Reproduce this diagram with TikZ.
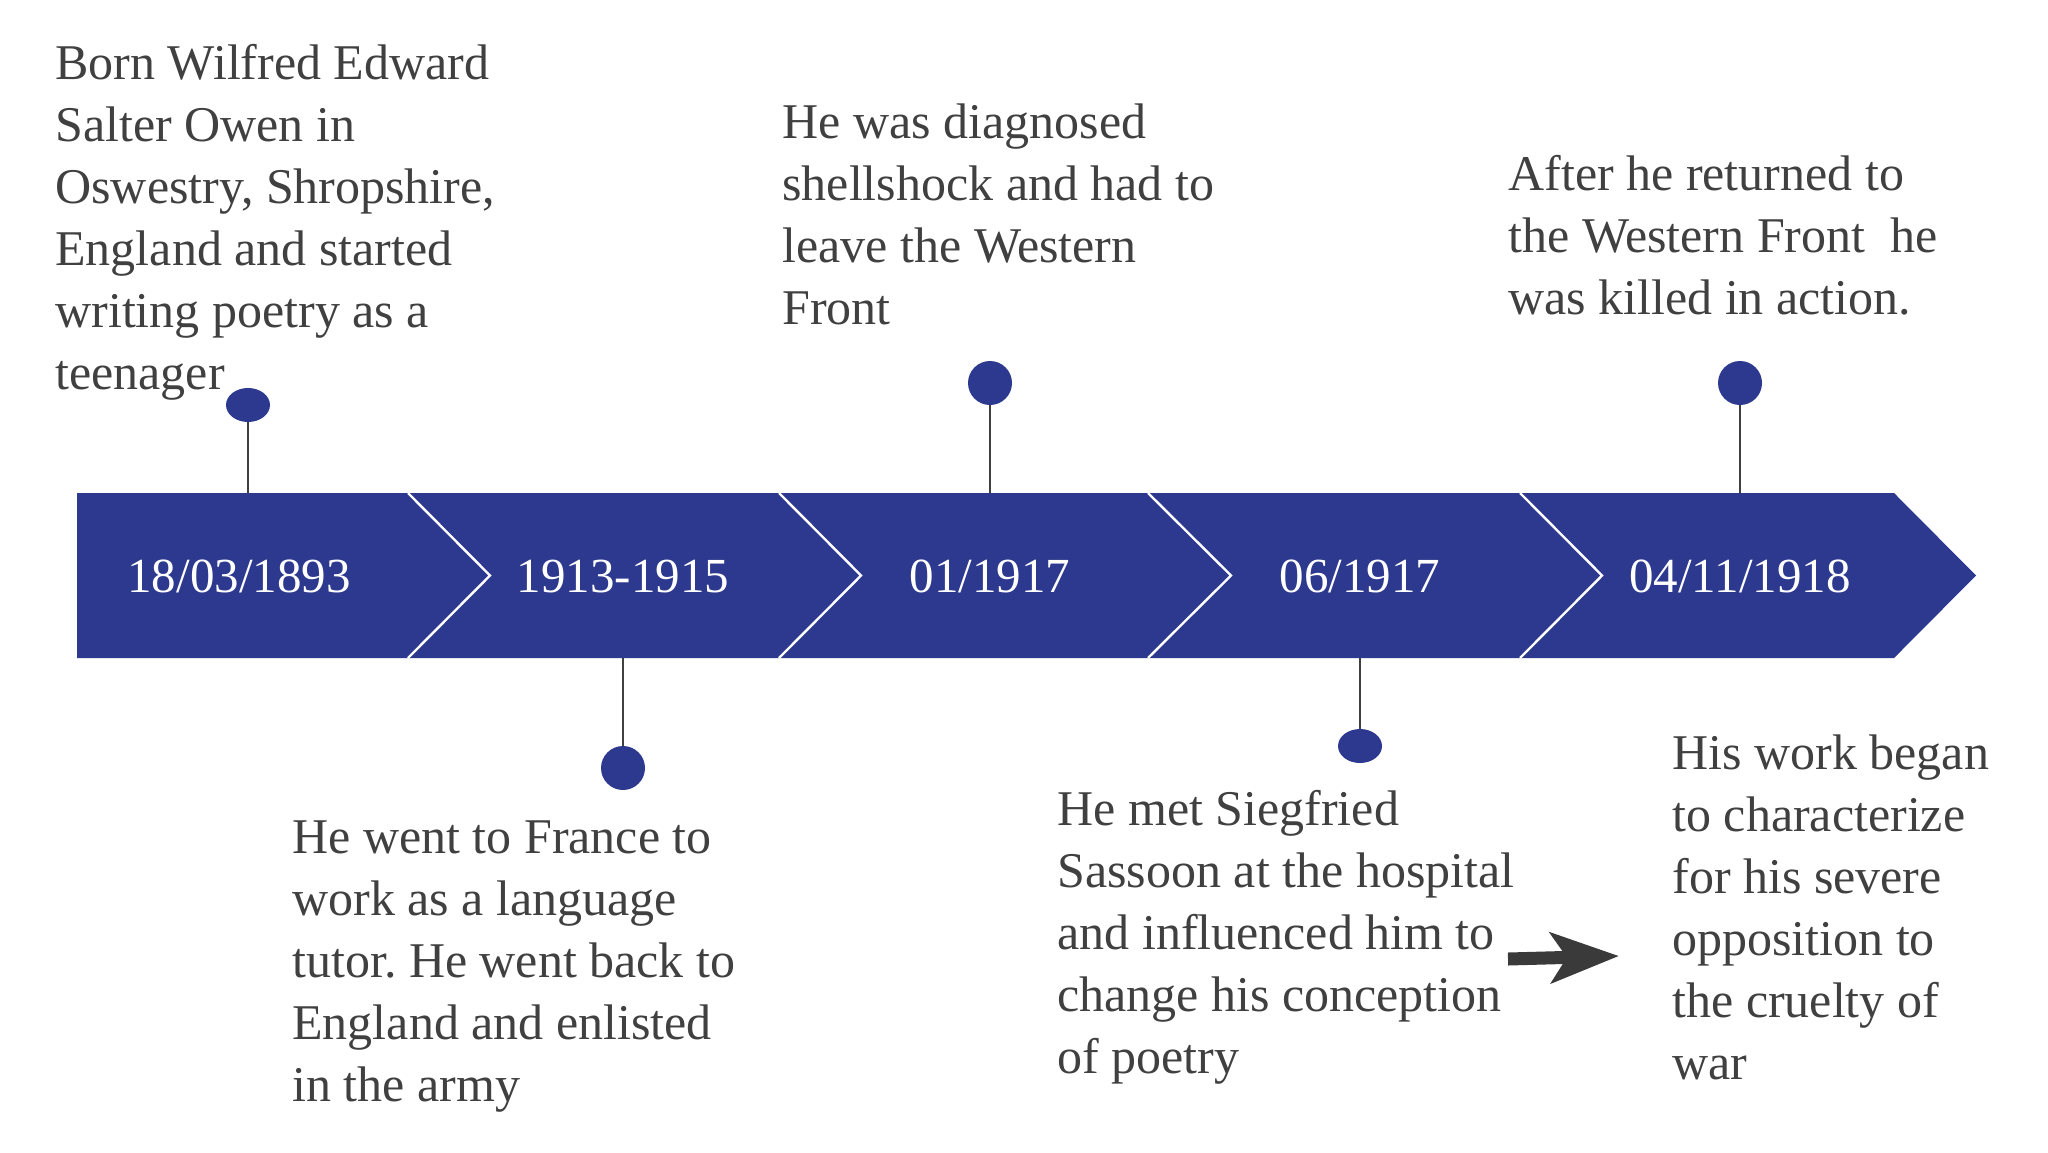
\documentclass[tikz,border=0pt]{standalone}
\usepackage{fontspec}
\setmainfont{Liberation Serif}
\usetikzlibrary{shapes.geometric,arrows.meta}
\frenchspacing
\definecolor{tlblue}{RGB}{44,57,142}
\definecolor{tltext}{RGB}{64,64,64}
\definecolor{tlarrow}{RGB}{58,58,58}
\tikzset{
  seg/.style={fill=tlblue,draw=none},
  sepline/.style={draw=white,line width=1.2pt,line join=miter},
  datelbl/.style={text=white,font=\fontsize{24.5}{28}\selectfont,anchor=base,inner sep=0pt},
  desc/.style={text=tltext,font=\fontsize{25}{31}\selectfont\frenchspacing,align=left,anchor=base west,inner sep=0pt},
  pinround/.style={circle,fill=tlblue,minimum size=22pt,inner sep=0pt},
  pinoval/.style={ellipse,fill=tlblue,minimum width=22pt,minimum height=17pt,inner sep=0pt},
  stem/.style={draw=tltext,line width=0.9pt},
  bigarrow/.style={draw=tlarrow,line width=6.5pt,-{Stealth[length=34pt,width=25pt,inset=8pt]}}
}
\begin{document}
\begin{tikzpicture}[x=0.5pt,y=-0.5pt]
\useasboundingbox (0,0) rectangle (2048,1152);
\fill[white] (0,0) rectangle (2048,1152);
% banner segments
\path[seg] (77,493) -- (408,493) -- (490,575.5) -- (408,658) -- (77,658) -- cycle;
\path[seg] (408,493) -- (779,493) -- (861,575.5) -- (779,658) -- (408,658) -- (490,575.5) -- cycle;
\path[seg] (779,493) -- (1148,493) -- (1231,575.5) -- (1148,658) -- (779,658) -- (861,575.5) -- cycle;
\path[seg] (1148,493) -- (1520,493) -- (1602,575.5) -- (1520,658) -- (1148,658) -- (1231,575.5) -- cycle;
\path[seg] (1520,493) -- (1894,493) -- (1976,575.5) -- (1894,658) -- (1520,658) -- (1602,575.5) -- cycle;
% separators
\draw[sepline] (408,493) -- (490,575.5) -- (408,658);
\draw[sepline] (779,493) -- (861,575.5) -- (779,658);
\draw[sepline] (1148,493) -- (1231,575.5) -- (1148,658);
\draw[sepline] (1520,493) -- (1602,575.5) -- (1520,658);
% dates
\node[datelbl] (d1) at (239,592) {18/03/1893};
\node[datelbl] (d2) at (623,592) {1913-1915};
\node[datelbl] (d3) at (990,592) {01/1917};
\node[datelbl] (d4) at (1360,592) {06/1917};
\node[datelbl] (d5) at (1740,592) {04/11/1918};
% banner anchor points
\coordinate (b1) at (248,493);
\coordinate (b2) at (623,658);
\coordinate (b3) at (990,493);
\coordinate (b4) at (1360,658);
\coordinate (b5) at (1740,493);
% pins
\node[pinoval] (p1) at (248,405) {};
\node[pinround] (p2) at (623,768) {};
\node[pinround] (p3) at (990,383) {};
\node[pinoval] (p4) at (1360,746) {};
\node[pinround] (p5) at (1740,383) {};
\draw[stem] (p1.south) -- (b1);
\draw[stem] (p2.north) -- (b2);
\draw[stem] (p3.south) -- (b3);
\draw[stem] (p4.north) -- (b4);
\draw[stem] (p5.south) -- (b5);
% descriptions (anchored at the baseline of their last line)
\node[desc] (t1) at (55,389) {Born Wilfred Edward\\Salter Owen in\\Oswestry, Shropshire,\\England and started\\writing poetry as a\\teenager};
\node[desc] (t2) at (782,324) {He was diagnosed\\shellshock and had to\\leave the Western\\Front};
\node[desc] (t3) at (1508,314) {After he returned to\\the Western Front\ \ he\\was killed in action.};
\node[desc] (t4) at (292,1101) {He went to France to\\work as a language\\tutor. He went back to\\England and enlisted\\in the army};
\node[desc] (t5) at (1057,1073) {He met Siegfried\\Sassoon at the hospital\\and influenced him to\\change his conception\\of poetry};
\node[desc] (t6) at (1672,1079) {His work began\\to characterize\\for his severe\\opposition to\\the cruelty of\\war};
% arrow
\coordinate (a1) at (1508,959);
\coordinate (a2) at (1619,956);
\draw[bigarrow] (a1) -- (a2);
\end{tikzpicture}
\end{document}
